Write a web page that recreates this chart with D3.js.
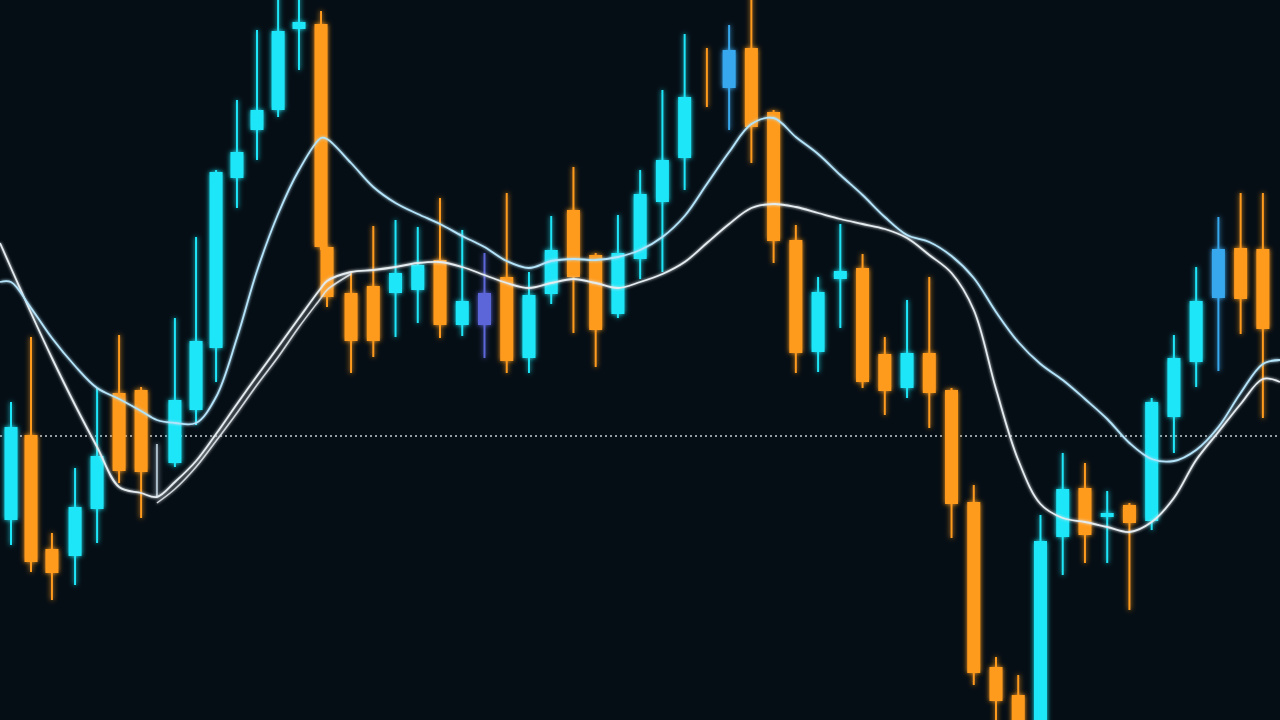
<!DOCTYPE html>
<html>
<head>
<meta charset="utf-8">
<script src="https://cdn.jsdelivr.net/npm/d3@7/dist/d3.min.js"></script>
<style>
  html, body { margin: 0; padding: 0; background: #060e15; overflow: hidden; }
  svg { display: block; }
</style>
</head>
<body>
<svg id="chart" width="1280" height="720"></svg>
<script>
// ---- data (arbitrary price units) ----
const sessions = [-0.29, 0.61, 1.55, 2.59, 3.58, 4.57, 5.56, 6.27, 7.08, 8.03,
  8.93, 9.87, 10.77, 11.72, 12.66, 13.65, 13.92, 15, 16, 17,
  18, 19, 20, 21, 22, 23, 24, 25, 26, 27,
  28, 29, 30, 31, 32, 33, 34, 35, 36, 37,
  38, 39, 40, 41, 42, 43, 44, 45, 46, 47,
  48, 49, 50, 51, 52, 53, 54, 55, 56];

const openVals = [200, 285, 171, 164, 211, 327, 330, 250, 257, 310,
  372, 542, 590, 610, 691, 696, 473, 427, 434, 427,
  430, 460, 395, 395, 443, 362, 426, 510, 465, 406,
  461, 518, 562, 642, 632, 672, 608, 480, 368, 441,
  452, 366, 332, 367, 330, 218, 53, 25, -30, 183,
  232, 203, 215, 199, 303, 358, 422, 472, 471];

const closeVals = [293, 158, 147, 213, 264, 249, 248, 250, 320, 379,
  548, 568, 610, 689, 698, 473, 423, 379, 379, 447,
  455, 395, 419, 427, 359, 425, 470, 443, 390, 467,
  526, 560, 623, 642, 670, 593, 479, 367, 428, 449,
  338, 329, 367, 327, 216, 47, 19, -20, 179, 231,
  185, 207, 197, 318, 362, 419, 471, 421, 391];

const highVals = [318, 383, 187, 252, 332, 385, 333, 276, 402, 483,
  550, 620, 690, 725, 725, 709, 473, 447, 494, 500,
  493, 522, 490, 467, 527, 448, 504, 553, 467, 505,
  550, 630, 686, 672, 695, 725, 610, 495, 443, 496,
  466, 383, 420, 443, 332, 235, 63, 45, 205, 267,
  257, 229, 217, 322, 385, 453, 503, 527, 527];

const lowVals = [175, 148, 120, 135, 177, 237, 202, 223, 253, 295,
  338, 512, 560, 603, 650, 470, 413, 347, 363, 383,
  397, 382, 384, 362, 347, 347, 416, 387, 353, 402,
  441, 448, 530, 613, 590, 557, 457, 347, 348, 392,
  332, 305, 322, 292, 182, 35, -10, -25, -40, 145,
  157, 157, 110, 190, 267, 333, 349, 386, 302];

// tagged sessions (index -> tag)
const tagged = { 23: "violet", 33: "down", 34: "blue", 56: "blue" };

// moving averages, sampled at the chart edges and at every session
const maSessions = [-0.785, -0.29, 0.61, 1.55, 2.59, 3.58, 4.57, 5.56, 6.27, 7.08, 8.03,
  8.93, 9.87, 10.77, 11.72, 12.66, 13.65, 13.92, 15, 16, 17,
  18, 19, 20, 21, 22, 23, 24, 25, 26, 27,
  28, 29, 30, 31, 32, 33, 34, 35, 36, 37,
  38, 39, 40, 41, 42, 43, 44, 45, 46, 47,
  48, 49, 50, 51, 52, 53, 54, 55, 56, 56.77];

const maFast = [438, 438, 412, 382, 354, 332, 321, 309, 300, 297, 297,
  323, 382, 449, 506, 550, 582, 581, 557, 533, 517,
  506, 496, 484, 473, 459, 452, 459, 461, 460, 463,
  470, 483, 504, 536, 568, 596, 602, 583, 566, 545,
  525, 503, 485, 478, 464, 442, 408, 378, 356, 340,
  321, 301, 277, 261, 259, 270, 293, 327, 356, 360];

const maSlow = [477, 452, 407, 362, 315, 273, 233, 227, 223, 238, 259,
  286, 316, 344, 373, 402, 432, 439, 448, 450, 453,
  457, 458, 453, 445, 437, 432, 437, 441, 437, 432,
  438, 446, 458, 477, 496, 512, 516, 513, 507, 501,
  496, 491, 482, 465, 447, 410, 331, 260, 216, 202,
  198, 193, 188, 198, 222, 260, 288, 316, 341, 338];

const maAlt = [null, null, null, null, null, null, null, null, 217, 231, 253,
  279, 307, 335, 363, 393, 422, 430, 446, null, null,
  null, null, null, null, null, null, null, null, null, null,
  null, null, null, null, null, null, null, null, null, null,
  null, null, null, null, null, null, null, null, null, null,
  null, null, null, null, null, null, null, null, null, null];

const refLevel = 284;

// ---- build ----
const W = 1280, H = 720;
const svg = d3.select("#chart");

svg.append("rect").attr("width", W).attr("height", H).attr("fill", "#060e15");

const defs = svg.append("defs");
const glow = defs.append("filter").attr("id", "glow")
  .attr("x", "-50%").attr("y", "-20%").attr("width", "200%").attr("height", "140%");
glow.append("feGaussianBlur").attr("in", "SourceGraphic").attr("stdDeviation", 2.5).attr("result", "b");
const gm = glow.append("feMerge");
gm.append("feMergeNode").attr("in", "b");
gm.append("feMergeNode").attr("in", "SourceGraphic");

const lglow = defs.append("filter").attr("id", "lglow")
  .attr("x", "-10%").attr("y", "-10%").attr("width", "120%").attr("height", "120%");
lglow.append("feGaussianBlur").attr("in", "SourceGraphic").attr("stdDeviation", 1.8).attr("result", "b");
const lm = lglow.append("feMerge");
lm.append("feMergeNode").attr("in", "b");
lm.append("feMergeNode").attr("in", "SourceGraphic");

const x = d3.scaleLinear().domain([-0.785, 56.77]).range([0, W]);
const y = d3.scaleLinear().domain([0, 720]).range([H, 0]);

const candles = sessions.map((t, i) => ({
  t, o: openVals[i], c: closeVals[i], h: highVals[i], l: lowVals[i], tag: tagged[i]
}));

const palette = { up: "#1fe6f7", down: "#ff9b1e", blue: "#38a8ee", violet: "#5c66d8", flat: "#aebfcc" };
function colorOf(d) {
  if (d.tag) return palette[d.tag];
  if (d.o === d.c) return palette.flat;
  return d.c > d.o ? palette.up : palette.down;
}

// reference dotted line
svg.append("line")
  .attr("x1", 0).attr("x2", W)
  .attr("y1", y(refLevel)).attr("y2", y(refLevel))
  .attr("stroke", "#e8eef2").attr("stroke-width", 1.6)
  .attr("stroke-dasharray", "2,3").attr("opacity", 0.85);

const bodyW = 13;
const cg = svg.append("g").attr("filter", "url(#glow)");
const g = cg.selectAll("g.candle").data(candles).join("g").attr("class", "candle");

g.append("line")
  .attr("x1", d => x(d.t)).attr("x2", d => x(d.t))
  .attr("y1", d => y(d.h)).attr("y2", d => y(d.l))
  .attr("stroke", colorOf).attr("stroke-width", 2);

g.append("rect")
  .attr("x", d => x(d.t) - bodyW / 2)
  .attr("width", bodyW)
  .attr("y", d => y(Math.max(d.o, d.c)))
  .attr("height", d => Math.abs(y(d.o) - y(d.c)))
  .attr("fill", colorOf);

// moving averages
const lineGen = d3.line()
  .defined(d => d.v !== null)
  .x(d => x(d.t)).y(d => y(d.v))
  .curve(d3.curveCatmullRom.alpha(0.5));

const lg = svg.append("g").attr("filter", "url(#lglow)").attr("fill", "none");
lg.append("path")
  .datum(maSessions.map((t, i) => ({ t, v: maAlt[i] })))
  .attr("d", lineGen).attr("stroke", "#dfe6ea").attr("stroke-width", 1.5).attr("opacity", 0.9);
lg.append("path")
  .datum(maSessions.map((t, i) => ({ t, v: maSlow[i] })))
  .attr("d", lineGen).attr("stroke", "#e4ecf0").attr("stroke-width", 1.8);
lg.append("path")
  .datum(maSessions.map((t, i) => ({ t, v: maFast[i] })))
  .attr("d", lineGen).attr("stroke", "#b4e4fa").attr("stroke-width", 1.8);
</script>
</body>
</html>
